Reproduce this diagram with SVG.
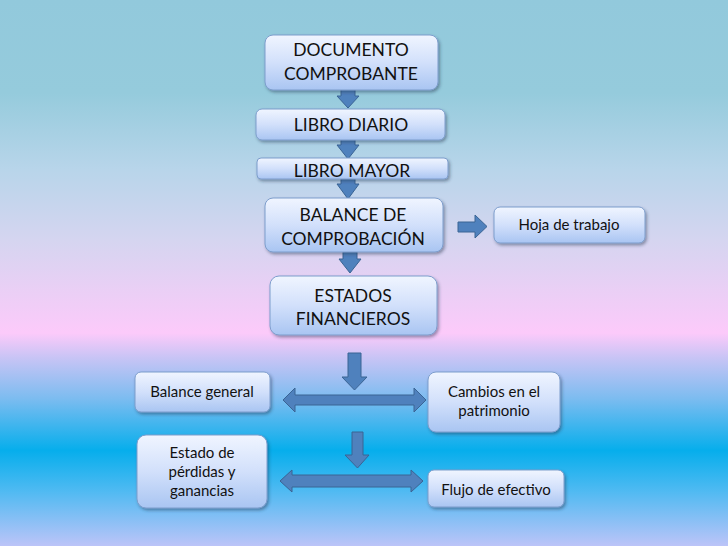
<svg xmlns="http://www.w3.org/2000/svg" width="728" height="546" viewBox="0 0 728 546">
<defs>
<linearGradient id="bg" x1="0" y1="0" x2="0" y2="1">
<stop offset="0" stop-color="#92c9dc"/>
<stop offset="0.17" stop-color="#95cbdc"/>
<stop offset="0.31" stop-color="#b8d5ea"/>
<stop offset="0.44" stop-color="#d5d5f0"/>
<stop offset="0.61" stop-color="#fccafa"/>
<stop offset="0.655" stop-color="#c8c4f5"/>
<stop offset="0.73" stop-color="#7cbcf0"/>
<stop offset="0.825" stop-color="#06aeec"/>
<stop offset="0.9" stop-color="#50baf2"/>
<stop offset="1" stop-color="#bcc4f8"/>
</linearGradient>
<linearGradient id="box" x1="0" y1="0" x2="0" y2="1">
<stop offset="0" stop-color="#f0f5ff"/>
<stop offset="0.5" stop-color="#d2e0fb"/>
<stop offset="1" stop-color="#a9c5f2"/>
</linearGradient>
<filter id="sh" x="-10%" y="-20%" width="125%" height="150%">
<feDropShadow dx="1.5" dy="2" stdDeviation="1.5" flood-color="#203050" flood-opacity="0.45"/>
</filter>
<style>
.b{fill:url(#box);stroke:#7d9dcc;stroke-width:1;filter:url(#sh)}
.t{font-family:Lato,"Liberation Sans",sans-serif;fill:#111;text-anchor:middle}
.l{font-size:17.5px}
.s{font-size:15px}
.a{fill:#4f81bd;stroke:#3a6494;stroke-width:1}
</style>
</defs>
<rect width="728" height="546" fill="url(#bg)"/>
<g id="connectors">
<polygon class="a" points="341,89 355,89 355,96 359,96 348,108 337,96 341,96"/>
<polygon class="a" points="341,139 355,139 355,145 359,145 348,159 337,145 341,145"/>
<polygon class="a" points="341,179 355,179 355,184 359,184 348,199 337,184 341,184"/>
<polygon class="a" points="343,252 357,252 357,259 361,259 350,273 339,259 343,259"/>
<polygon class="a" points="458,222 475,222 475,215 487,226.5 475,238 475,232 458,232"/>
<polygon class="a" points="348,353 361,353 361,377 367,377 354.5,390 342,377 348,377"/>
<polygon class="a" points="352,432 363,432 363,455 369,455 357.5,468 345,455 352,455"/>
<polygon class="a" points="283,400 295,388 295,395 414,395 414,388 426,400 414,412 414,405 295,405 295,412"/>
<polygon class="a" points="280,481 292,470 292,475 411,475 411,470 423,481 411,492 411,487 292,487 292,492"/>
</g>
<g id="n1"><rect class="b" x="265" y="35" width="173" height="55" rx="8"/>
<text class="t l" x="351" y="56">DOCUMENTO</text><text class="t l" x="351" y="80">COMPROBANTE</text></g>
<g id="n2"><rect class="b" x="256" y="109" width="189" height="31" rx="6"/>
<text class="t l" x="351" y="131">LIBRO DIARIO</text></g>
<g id="n3"><rect class="b" x="257" y="158" width="191" height="21" rx="4"/>
<text class="t l" x="352" y="177">LIBRO MAYOR</text></g>
<g id="n4"><rect class="b" x="265" y="198" width="178" height="54" rx="8"/>
<text class="t l" x="353" y="221">BALANCE DE</text><text class="t l" x="353" y="245">COMPROBACIÓN</text></g>
<g id="n5"><rect class="b" x="270" y="276" width="167" height="59" rx="9"/>
<text class="t l" x="353" y="302">ESTADOS</text><text class="t l" x="353" y="325">FINANCIEROS</text></g>
<g id="n6"><rect class="b" x="494" y="207" width="151" height="36" rx="6"/>
<text class="t s" x="569" y="230">Hoja de trabajo</text></g>
<g id="n7"><rect class="b" x="135" y="372" width="135" height="40" rx="6"/>
<text class="t s" x="202" y="397">Balance general</text></g>
<g id="n8"><rect class="b" x="428" y="372" width="132" height="60" rx="8"/>
<text class="t s" x="494" y="397">Cambios en el</text><text class="t s" x="494" y="416">patrimonio</text></g>
<g id="n9"><rect class="b" x="137" y="435" width="130" height="73" rx="9"/>
<text class="t s" x="202" y="458">Estado de</text><text class="t s" x="202" y="477">pérdidas y</text><text class="t s" x="202" y="496">ganancias</text></g>
<g id="n10"><rect class="b" x="428" y="470" width="136" height="37" rx="6"/>
<text class="t s" x="496" y="495">Flujo de efectivo</text></g>
</svg>
